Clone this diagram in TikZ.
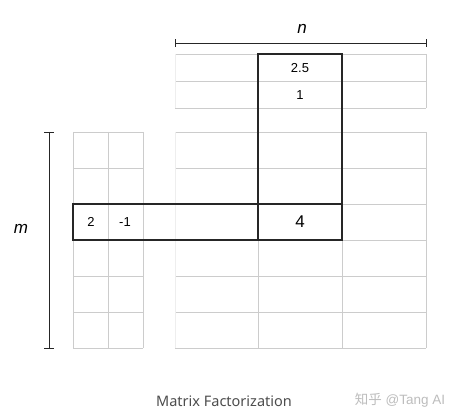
\documentclass[tikz,border=0pt]{standalone}
\usepackage{fontspec}
\setmainfont{Liberation Sans}
\newfontfamily\capfont{Noto Sans}
\newfontfamily\cjkfont{Noto Sans CJK SC}
\definecolor{gridc}{HTML}{CCCCCC}
\definecolor{faintc}{HTML}{EEEEEE}
\definecolor{boldc}{HTML}{262626}
\definecolor{capc}{HTML}{4D4D4D}
\definecolor{wmc}{HTML}{BDBDBD}
\begin{document}
\begin{tikzpicture}[x=1pt,y=-1pt,
  gridline/.style={draw=gridc,line width=0.7pt},
  faintline/.style={draw=faintc,line width=0.7pt},
  boldbox/.style={draw=boldc,line width=1.1pt},
  dimline/.style={draw=boldc,line width=0.8pt},
  val/.style={inner sep=0pt,font=\fontsize{13}{15}\selectfont,text=black},
  bigval/.style={inner sep=0pt,font=\fontsize{17}{19}\selectfont,text=black},
  dimlabel/.style={inner sep=0pt,font=\itshape\fontsize{17}{19}\selectfont,text=black}]
\useasboundingbox[fill=white] (0,0) rectangle (457,419);
% top grid (right factor)
\foreach \y in {54,81,108} \draw[gridline] (175,\y) -- (426,\y);
\draw[faintline] (175,54) -- (175,108);
\draw[gridline] (426,54) -- (426,108);
% main grid right
\foreach \y in {132,168,204,240,276,312,348} \draw[gridline] (175,\y) -- (426,\y);
\draw[faintline] (175,132) -- (175,348);
\foreach \x in {258,342,426} \draw[gridline] (\x,132) -- (\x,348);
% left grid
\foreach \y in {132,168,204,240,276,312,348} \draw[gridline] (73,\y) -- (143,\y);
\foreach \x in {73,108,143} \draw[gridline] (\x,132) -- (\x,348);
% bold boxes
\draw[boldbox] (258,54) rectangle (342,240);
\draw[boldbox] (73,204) rectangle (342,240);
% dimension lines
\coordinate (nl) at (175,43); \coordinate (nr) at (426,43);
\draw[dimline] (nl) -- (nr);
\draw[dimline] ([yshift=-4]nl) -- ([yshift=4]nl);
\draw[dimline] ([yshift=-4]nr) -- ([yshift=4]nr);
\coordinate (mt) at (49,132); \coordinate (mb) at (49,348);
\draw[dimline] (mt) -- (mb);
\draw[dimline] ([xshift=-5]mt) -- ([xshift=5]mt);
\draw[dimline] ([xshift=-5]mb) -- ([xshift=5]mb);
\node[dimlabel] (n) at (302,29) {n};
\node[dimlabel] (m) at (21,229) {m};
% values
\node[val] (v25) at (300,68) {2.5};
\node[val] (v1) at (300,95) {1};
\node[val] (v2) at (91,222) {2};
\node[val] (vm1) at (125,222) {-1};
\node[bigval] (v4) at (300,222) {4};
% caption
\node[inner sep=0pt,font=\capfont\fontsize{14.5}{16}\selectfont,text=capc] (cap) at (224,401) {Matrix Factorization};
\node[inner sep=0pt,font=\fontsize{13.5}{15}\selectfont,text=wmc] (wm) at (400,400) {{\cjkfont 知乎} @Tang AI};
\end{tikzpicture}
\end{document}
